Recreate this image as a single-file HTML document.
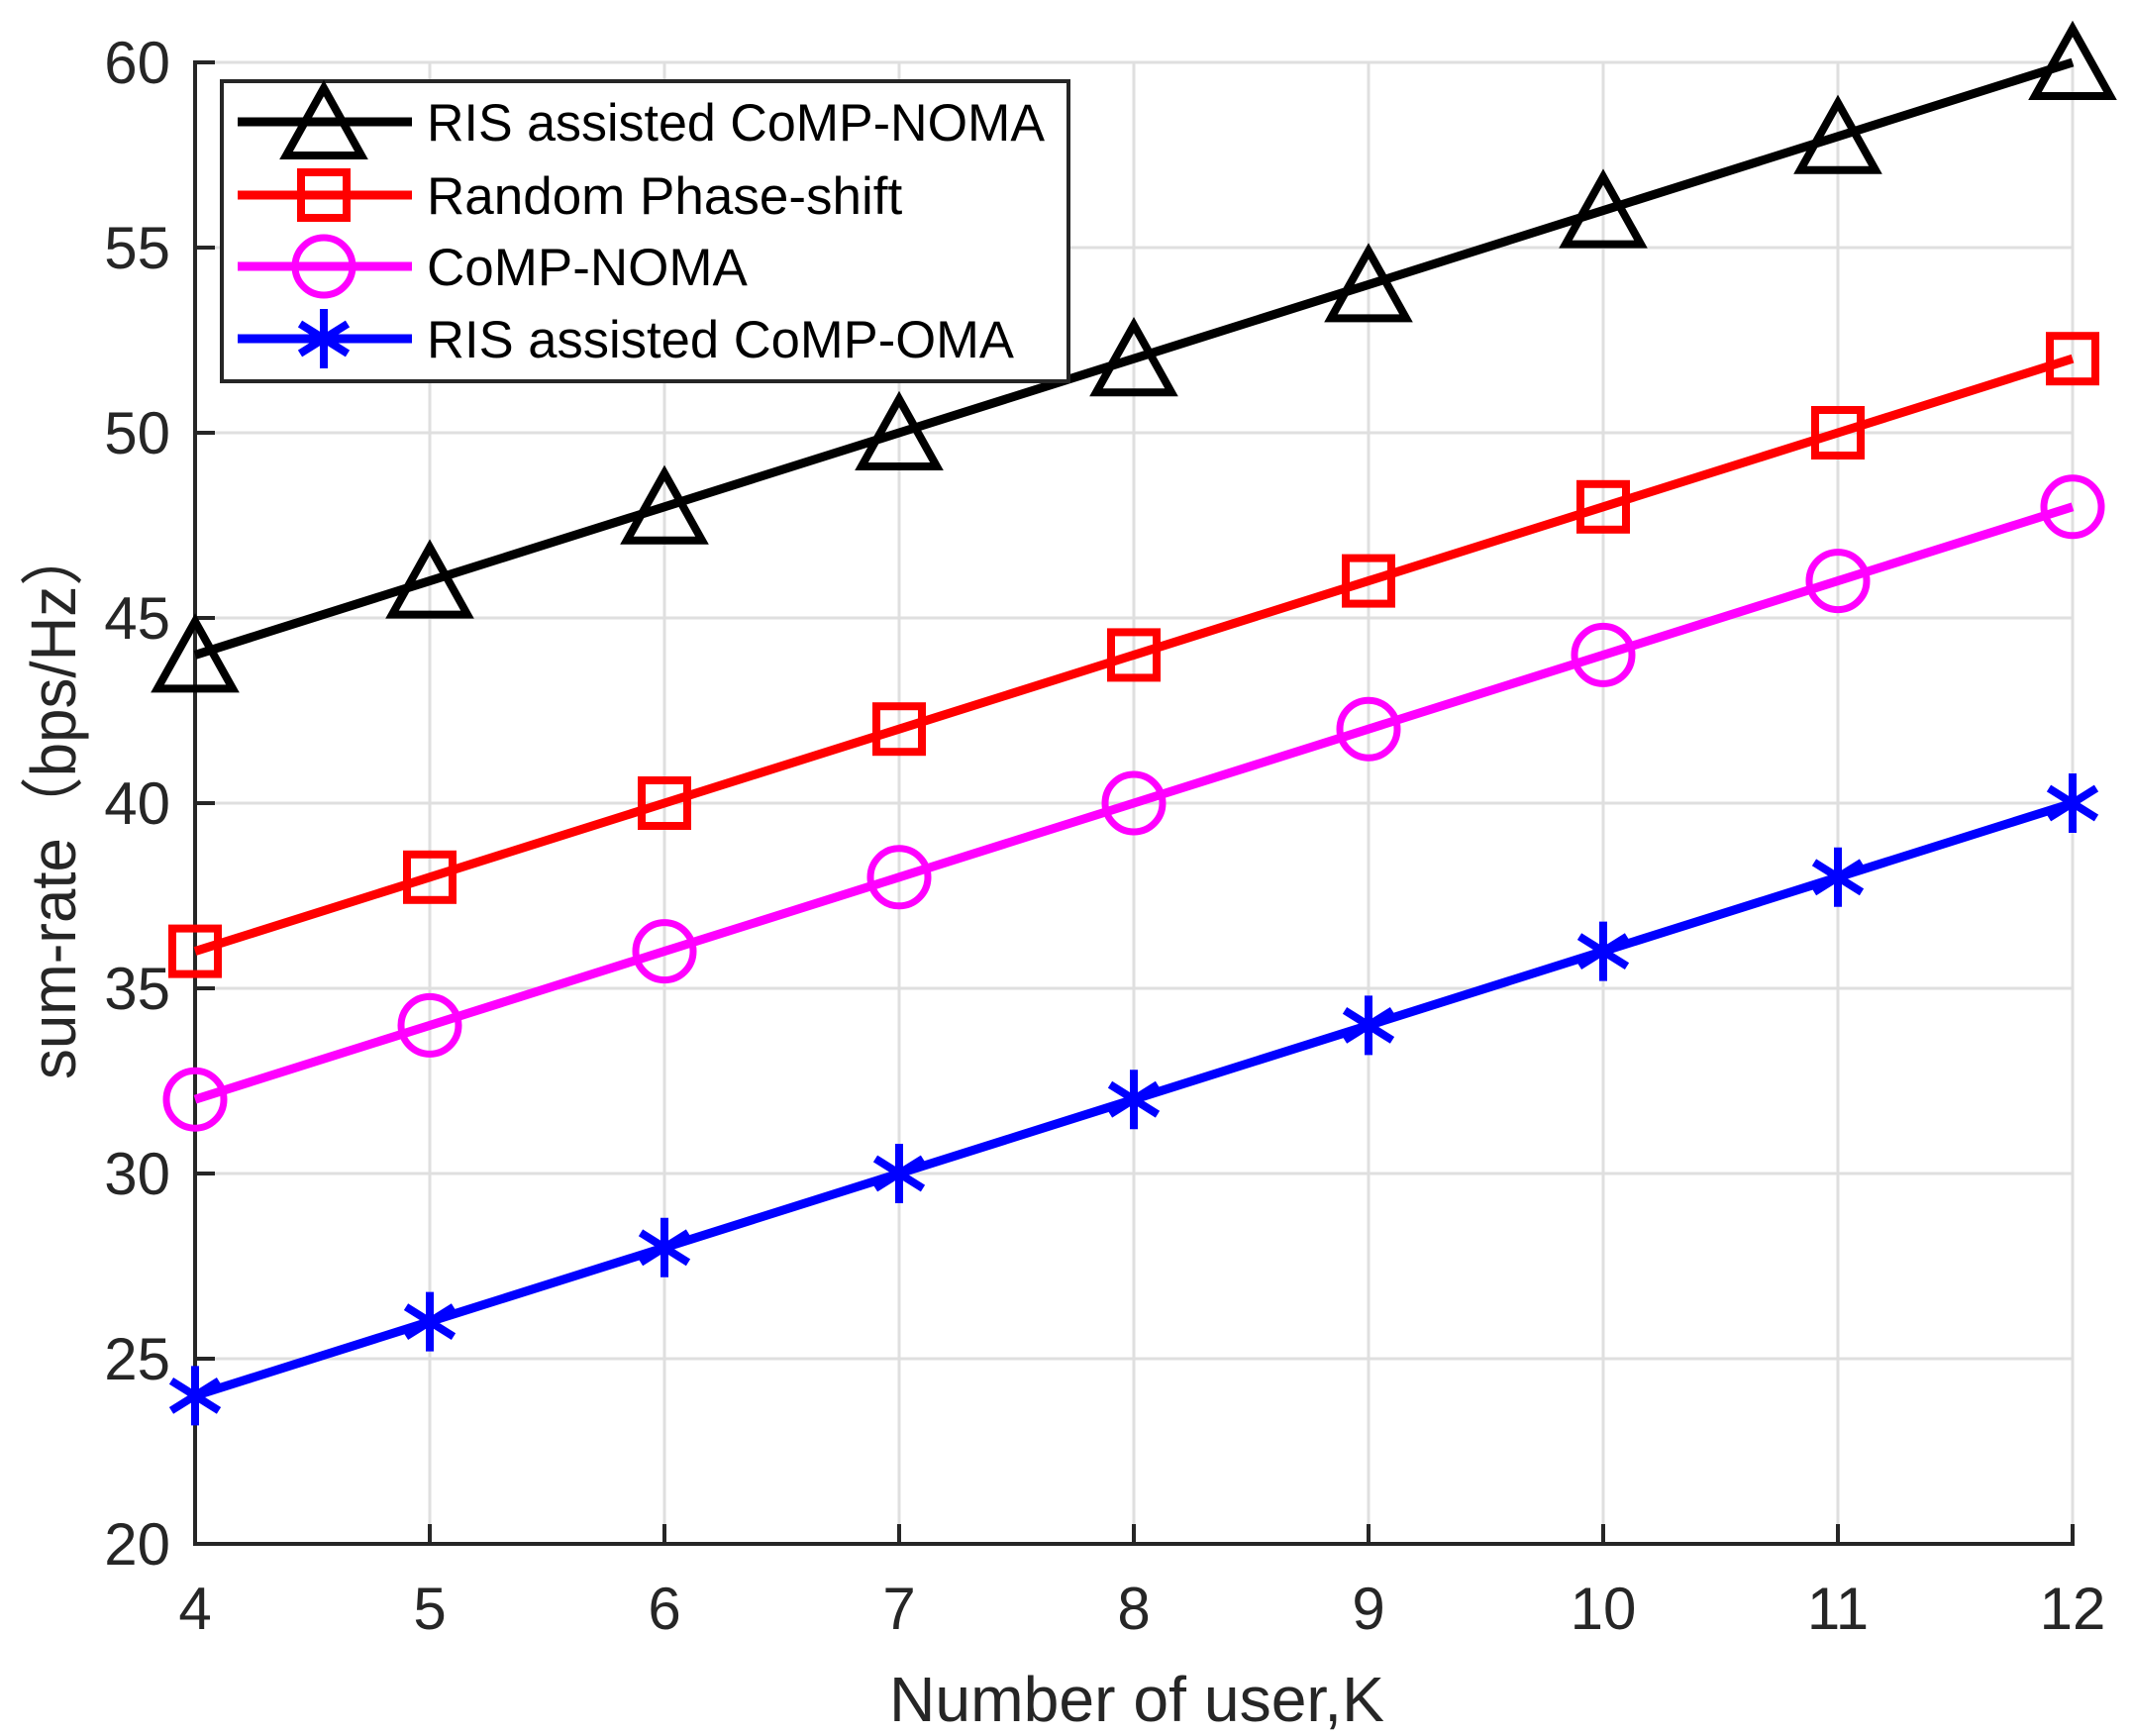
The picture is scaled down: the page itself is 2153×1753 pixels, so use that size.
<!DOCTYPE html>
<html><head><meta charset="utf-8"><style>
html,body{margin:0;padding:0;background:#fff;}
svg{display:block;}
text{font-family:"Liberation Sans","Noto Sans CJK SC",sans-serif;}
</style></head><body>
<svg width="2153" height="1753" viewBox="0 0 2153 1753" xmlns="http://www.w3.org/2000/svg">
<defs>
<g id="tri"><polygon points="0,-34 38,34 -38,34" fill="none" stroke="#000" stroke-width="8" stroke-linejoin="miter"/></g>
<g id="sq"><rect x="-23" y="-23" width="46" height="46" fill="none" stroke="#f00" stroke-width="8"/></g>
<g id="cir"><circle r="29" fill="none" stroke="#f0f" stroke-width="7"/></g>
<g id="ast" stroke="#00f" stroke-width="8"><line x1="0" y1="-30" x2="0" y2="30"/><line x1="-24" y1="-15" x2="24" y2="15"/><line x1="-24" y1="15" x2="24" y2="-15"/></g>
</defs>
<g stroke="#dfdfdf" stroke-width="3">
<line x1="434" y1="63" x2="434" y2="1559"/><line x1="671" y1="63" x2="671" y2="1559"/><line x1="908" y1="63" x2="908" y2="1559"/><line x1="1145" y1="63" x2="1145" y2="1559"/><line x1="1382" y1="63" x2="1382" y2="1559"/><line x1="1619" y1="63" x2="1619" y2="1559"/><line x1="1856" y1="63" x2="1856" y2="1559"/><line x1="2093" y1="63" x2="2093" y2="1559"/>
<line x1="197" y1="63" x2="2093" y2="63"/><line x1="197" y1="250" x2="2093" y2="250"/><line x1="197" y1="437" x2="2093" y2="437"/><line x1="197" y1="624" x2="2093" y2="624"/><line x1="197" y1="811" x2="2093" y2="811"/><line x1="197" y1="998" x2="2093" y2="998"/><line x1="197" y1="1185" x2="2093" y2="1185"/><line x1="197" y1="1372" x2="2093" y2="1372"/>
</g>
<g stroke="#262626" stroke-width="4">
<line x1="197" y1="61" x2="197" y2="1561"/><line x1="195" y1="1559" x2="2095" y2="1559"/>
<line x1="197" y1="63" x2="217" y2="63"/><line x1="197" y1="250" x2="217" y2="250"/><line x1="197" y1="437" x2="217" y2="437"/><line x1="197" y1="624" x2="217" y2="624"/><line x1="197" y1="811" x2="217" y2="811"/><line x1="197" y1="998" x2="217" y2="998"/><line x1="197" y1="1185" x2="217" y2="1185"/><line x1="197" y1="1372" x2="217" y2="1372"/>
<line x1="434" y1="1559" x2="434" y2="1539"/><line x1="671" y1="1559" x2="671" y2="1539"/><line x1="908" y1="1559" x2="908" y2="1539"/><line x1="1145" y1="1559" x2="1145" y2="1539"/><line x1="1382" y1="1559" x2="1382" y2="1539"/><line x1="1619" y1="1559" x2="1619" y2="1539"/><line x1="1856" y1="1559" x2="1856" y2="1539"/><line x1="2093" y1="1559" x2="2093" y2="1539"/>
</g>
<g fill="#262626" font-size="60" text-anchor="end">
<text x="172" y="84">60</text><text x="172" y="271">55</text><text x="172" y="458">50</text><text x="172" y="645">45</text><text x="172" y="832">40</text><text x="172" y="1019">35</text><text x="172" y="1206">30</text><text x="172" y="1393">25</text><text x="172" y="1580">20</text>
</g>
<g fill="#262626" font-size="60" text-anchor="middle">
<text x="197" y="1645">4</text><text x="434" y="1645">5</text><text x="671" y="1645">6</text><text x="908" y="1645">7</text><text x="1145" y="1645">8</text><text x="1382" y="1645">9</text><text x="1619" y="1645">10</text><text x="1856" y="1645">11</text><text x="2093" y="1645">12</text>
</g>
<text x="1148" y="1738" font-size="64" fill="#262626" text-anchor="middle" textLength="500" lengthAdjust="spacingAndGlyphs">Number of user,K</text>
<text transform="translate(76,810) rotate(-90)" font-size="64" fill="#262626" text-anchor="middle" textLength="560" lengthAdjust="spacingAndGlyphs">sum-rate（bps/Hz）</text>
<g fill="none" stroke-width="9">
<polyline stroke="#000" points="197,661.4 434,586.6 671,511.8 908,437 1145,362.2 1382,287.4 1619,212.6 1856,137.8 2093,63"/>
<polyline stroke="#f00" points="197,960.6 434,885.8 671,811 908,736.2 1145,661.4 1382,586.6 1619,511.8 1856,437 2093,362.2"/>
<polyline stroke="#f0f" points="197,1110.2 434,1035.4 671,960.6 908,885.8 1145,811 1382,736.2 1619,661.4 1856,586.6 2093,511.8"/>
<polyline stroke="#00f" points="197,1409.4 434,1334.6 671,1259.8 908,1185 1145,1110.2 1382,1035.4 1619,960.6 1856,885.8 2093,811"/>
</g>
<g>
<use href="#tri" x="197" y="661.4"/><use href="#tri" x="434" y="586.6"/><use href="#tri" x="671" y="511.8"/><use href="#tri" x="908" y="437"/><use href="#tri" x="1145" y="362.2"/><use href="#tri" x="1382" y="287.4"/><use href="#tri" x="1619" y="212.6"/><use href="#tri" x="1856" y="137.8"/><use href="#tri" x="2093" y="63"/>
<use href="#sq" x="197" y="960.6"/><use href="#sq" x="434" y="885.8"/><use href="#sq" x="671" y="811"/><use href="#sq" x="908" y="736.2"/><use href="#sq" x="1145" y="661.4"/><use href="#sq" x="1382" y="586.6"/><use href="#sq" x="1619" y="511.8"/><use href="#sq" x="1856" y="437"/><use href="#sq" x="2093" y="362.2"/>
<use href="#cir" x="197" y="1110.2"/><use href="#cir" x="434" y="1035.4"/><use href="#cir" x="671" y="960.6"/><use href="#cir" x="908" y="885.8"/><use href="#cir" x="1145" y="811"/><use href="#cir" x="1382" y="736.2"/><use href="#cir" x="1619" y="661.4"/><use href="#cir" x="1856" y="586.6"/><use href="#cir" x="2093" y="511.8"/>
<use href="#ast" x="197" y="1409.4"/><use href="#ast" x="434" y="1334.6"/><use href="#ast" x="671" y="1259.8"/><use href="#ast" x="908" y="1185"/><use href="#ast" x="1145" y="1110.2"/><use href="#ast" x="1382" y="1035.4"/><use href="#ast" x="1619" y="960.6"/><use href="#ast" x="1856" y="885.8"/><use href="#ast" x="2093" y="811"/>
</g>
<rect x="224" y="82" width="855" height="303" fill="#fff" stroke="#262626" stroke-width="4"/>
<g stroke-width="9">
<line x1="240" y1="123" x2="416" y2="123" stroke="#000"/><use href="#tri" x="327" y="123"/>
<line x1="240" y1="197" x2="416" y2="197" stroke="#f00"/><use href="#sq" x="327" y="197"/>
<line x1="240" y1="269" x2="416" y2="269" stroke="#f0f"/><use href="#cir" x="327" y="269"/>
<line x1="240" y1="342" x2="416" y2="342" stroke="#00f"/><use href="#ast" x="327" y="342"/>
</g>
<g font-size="53" fill="#000">
<text x="431" y="142" textLength="624" lengthAdjust="spacingAndGlyphs">RIS assisted CoMP-NOMA</text>
<text x="431" y="216">Random Phase-shift</text>
<text x="431" y="288">CoMP-NOMA</text>
<text x="431" y="361" textLength="593" lengthAdjust="spacingAndGlyphs">RIS assisted CoMP-OMA</text>
</g>
</svg>
</body></html>
